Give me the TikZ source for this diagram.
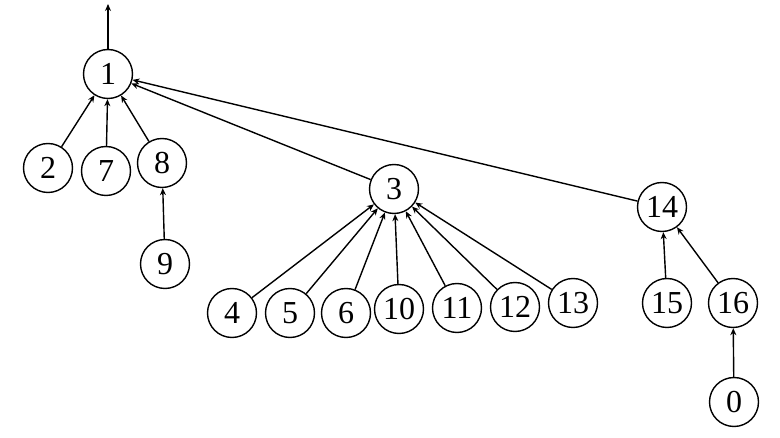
\documentclass[tikz,border=0pt]{standalone}
\usepackage{fontspec}
\setmainfont{Liberation Serif}
\usetikzlibrary{arrows.meta}
\begin{document}
\begin{tikzpicture}[x=1pt,y=-1pt,
  vert/.style={circle,draw,line width=1.4pt,minimum size=49pt,inner sep=0pt,font=\fontsize{32}{32}\selectfont},
  edge/.style={line width=1.4pt,-{Stealth[length=7pt,width=6pt,open]}}]
\useasboundingbox (0,0) rectangle (780,438);
\node[vert] (n1) at (108,74) {1};
\node[vert] (n2) at (48,168) {2};
\node[vert] (n7) at (106,171) {7};
\node[vert] (n8) at (162,163) {8};
\node[vert] (n9) at (165,264) {9};
\node[vert] (n3) at (394,189) {3};
\node[vert] (n4) at (232,313) {4};
\node[vert] (n5) at (290,313) {5};
\node[vert] (n6) at (346,313) {6};
\node[vert] (n10) at (399,309) {10};
\node[vert] (n11) at (457,308) {11};
\node[vert] (n12) at (515,307) {12};
\node[vert] (n13) at (573,303) {13};
\node[vert] (n14) at (662,207) {14};
\node[vert] (n15) at (667,303) {15};
\node[vert] (n16) at (733,303) {16};
\node[vert] (n0) at (734,402) {0};
\coordinate (top) at (108,4);
\draw[edge] (n1) -- (top);
\draw[edge] (n2) -- (n1);
\draw[edge] (n7) -- (n1);
\draw[edge] (n8) -- (n1);
\draw[edge] (n9) -- (n8);
\draw[edge] (n3) -- (n1);
\draw[edge] (n14) -- (n1);
\draw[edge] (n4) -- (n3);
\draw[edge] (n5) -- (n3);
\draw[edge] (n6) -- (n3);
\draw[edge] (n10) -- (n3);
\draw[edge] (n11) -- (n3);
\draw[edge] (n12) -- (n3);
\draw[edge] (n13) -- (n3);
\draw[edge] (n15) -- (n14);
\draw[edge] (n16) -- (n14);
\draw[edge] (n0) -- (n16);
\end{tikzpicture}
\end{document}
